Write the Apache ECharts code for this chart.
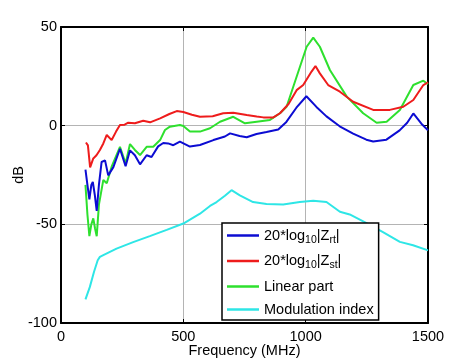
<!DOCTYPE html>
<html>
<head>
<meta charset="utf-8">
<script src="https://cdn.jsdelivr.net/npm/echarts@6/dist/echarts.min.js"></script>
<style>html,body{margin:0;padding:0;background:#fff}#c{width:474px;height:363px}</style>
</head>
<body>
<div id="c"></div>
<script>
var xTicks = [0, 500, 1000, 1500];
var yTicks = [-100, -50, 0, 50];
var seriesNames = ['Zrt', 'Zst', 'Linear part', 'Modulation index'];

var rtFreq = [100, 108, 116, 124, 130, 138, 146, 155, 166, 180, 193, 214, 241, 264, 282, 302, 323, 350, 370, 397, 418, 438, 459, 486, 527, 568, 623, 670, 691, 730, 759, 799, 840, 888, 921, 962, 1003, 1011, 1044, 1085, 1139, 1194, 1248, 1276, 1330, 1384, 1415, 1440, 1473, 1500];
var rtDb = [-22.3, -30, -37.3, -30, -28.5, -35, -43.2, -30, -18.4, -17.6, -25.2, -21, -11.7, -20.6, -12.5, -15, -19.6, -15, -15.9, -10.5, -8.8, -9, -9.9, -8.1, -10.6, -9.8, -7.3, -5.5, -3.9, -5.2, -5.9, -4.2, -3.2, -1.9, 1.9, 9.1, 14.9, 15.2, 9.5, 4.7, -0.3, -4, -7.1, -8.0, -7.1, -2.4, 1.5, 6.2, 1, -2.3];

var stFreq = [102, 110, 119, 132, 145, 159, 173, 187, 207, 225, 241, 260, 275, 302, 336, 364, 405, 443, 473, 500, 535, 568, 620, 663, 704, 759, 800, 827, 868, 895, 930, 963, 990, 1024, 1040, 1058, 1092, 1140, 1194, 1276, 1344, 1399, 1440, 1481, 1500];
var stDb = [-8.5, -10, -21.1, -16.6, -15, -12.3, -9, -4.7, -7.3, -3, 0.3, 0.5, 1.5, 1.2, 2.5, 1.7, 3.7, 5.9, 7.4, 6.9, 5.5, 4.5, 4.8, 6.3, 6.6, 5.4, 4.6, 4.2, 4.2, 6.3, 11, 18, 20.6, 27.4, 30.2, 26.5, 20.6, 17.2, 12.1, 8, 8, 9.6, 13, 20.6, 22];

var linFreq = [100, 108, 116, 124, 132, 139, 146, 155, 173, 187, 207, 241, 264, 282, 302, 323, 350, 377, 405, 425, 445, 486, 500, 527, 568, 609, 650, 704, 752, 800, 854, 895, 922, 963, 1004, 1031, 1058, 1099, 1168, 1235, 1290, 1331, 1385, 1440, 1481, 1500];
var linDb = [-30, -45, -56, -50, -47, -52, -56, -40, -27.5, -29.2, -20.8, -10.7, -19.1, -9.3, -12.3, -14.9, -10.7, -10.7, -7.3, -2.2, -0.5, 0.3, -0.2, -3, -3, -1.3, 2, 4.5, 1.2, 2, 2.9, 6.3, 9.6, 24.8, 40, 44.6, 40, 28.2, 14.7, 6.3, 1.5, 2, 7.9, 20.6, 22.8, 21];

var modFreq = [100, 118, 135, 150, 159, 173, 227, 295, 363, 432, 500, 568, 609, 636, 670, 697, 731, 785, 840, 908, 976, 1031, 1085, 1140, 1180, 1249, 1316, 1385, 1439, 1500];
var modDb = [-88, -81.7, -74, -68.2, -66.5, -65.6, -62.3, -59, -56, -52.8, -49.6, -44.6, -40.7, -38.7, -35.5, -32.7, -35.3, -38.7, -39.7, -39.9, -38.7, -38, -38.7, -43.6, -45, -49.4, -54, -58.9, -60.6, -63.2];

function zip(a, b) { return a.map(function (v, i) { return [v, b[i]]; }); }

var FONT = 'Liberation Sans, Arial, sans-serif';
var FS = 14.5;
var colors = ['#0c0cd2', '#ee1c1c', '#2ee02e', '#2ee6e6'];

var chart = echarts.init(document.getElementById('c'), null, { renderer: 'canvas' });
var lineStyle = function (c) { return { color: c, width: 2 }; };

var legendLabels = {
  'Zrt': '{m|20*log}{s|10}{m||Z}{s|rt}{m||}',
  'Zst': '{m|20*log}{s|10}{m||Z}{s|st}{m||}',
  'Linear part': '{p|Linear part}',
  'Modulation index': '{p|Modulation index}'
};

var plainLabel = function (v) { return String(v); };

chart.setOption({
  animation: false,
  textStyle: { fontFamily: FONT },
  grid: { left: 61, right: 46, top: 27, bottom: 40, containLabel: false, outerBoundsMode: 'none' },
  xAxis: [{
    type: 'value', min: xTicks[0], max: xTicks[xTicks.length - 1], interval: 500,
    name: 'Frequency (MHz)', nameLocation: 'middle', nameGap: 20, nameMoveOverlap: false,
    nameTextStyle: { color: '#000', fontSize: FS, fontFamily: FONT },
    axisLine: { onZero: false, lineStyle: { color: '#000', width: 2 } },
    axisTick: { inside: true, length: 4, lineStyle: { color: '#000', width: 1 } },
    axisLabel: { color: '#000', fontSize: FS, fontFamily: FONT, margin: 6, formatter: plainLabel },
    splitLine: { show: true, lineStyle: { color: '#b4b4b4', width: 1 } }
  }, {
    type: 'value', position: 'top', min: 0, max: 1500, interval: 500,
    axisLine: { onZero: false, lineStyle: { color: '#000', width: 2 } },
    axisTick: { inside: true, length: 4, lineStyle: { color: '#000', width: 1 } },
    axisLabel: { show: false }, splitLine: { show: false }
  }],
  yAxis: [{
    type: 'value', min: yTicks[0], max: yTicks[yTicks.length - 1], interval: 50,
    name: 'dB', nameLocation: 'middle', nameGap: 35, nameRotate: 90, nameMoveOverlap: false,
    nameTextStyle: { color: '#000', fontSize: FS, fontFamily: FONT },
    axisLine: { onZero: false, lineStyle: { color: '#000', width: 2 } },
    axisTick: { inside: true, length: 4, lineStyle: { color: '#000', width: 1 } },
    axisLabel: { color: '#000', fontSize: FS, fontFamily: FONT, margin: 4, formatter: plainLabel },
    splitLine: { show: true, lineStyle: { color: '#b4b4b4', width: 1 } }
  }, {
    type: 'value', position: 'right', min: -100, max: 50, interval: 50,
    axisLine: { onZero: false, lineStyle: { color: '#000', width: 2 } },
    axisTick: { inside: true, length: 4, lineStyle: { color: '#000', width: 1 } },
    axisLabel: { show: false }, splitLine: { show: false }
  }],
  legend: {
    orient: 'vertical', left: 222, top: 223,
    backgroundColor: '#fff', borderColor: '#000', borderWidth: 1.5,
    padding: [5, 5, 3, 5], itemGap: 8,
    itemWidth: 32, itemHeight: 2.5, icon: 'rect',
    data: seriesNames,
    formatter: function (n) { return legendLabels[n]; },
    textStyle: {
      color: '#000', fontSize: FS, fontFamily: FONT,
      rich: {
        m: { fontSize: FS, fontFamily: FONT, color: '#000', lineHeight: 20, verticalAlign: 'middle' },
        s: { fontSize: 10.5, fontFamily: FONT, color: '#000', lineHeight: 11, verticalAlign: 'bottom' },
        p: { fontSize: FS, fontFamily: FONT, color: '#000', lineHeight: 15 }
      }
    }
  },
  series: [
    { name: seriesNames[0], type: 'line', data: zip(rtFreq, rtDb), showSymbol: false, lineStyle: lineStyle(colors[0]), itemStyle: { color: colors[0] }, z: 4 },
    { name: seriesNames[1], type: 'line', data: zip(stFreq, stDb), showSymbol: false, lineStyle: lineStyle(colors[1]), itemStyle: { color: colors[1] }, z: 3 },
    { name: seriesNames[2], type: 'line', data: zip(linFreq, linDb), showSymbol: false, lineStyle: lineStyle(colors[2]), itemStyle: { color: colors[2] }, z: 2 },
    { name: seriesNames[3], type: 'line', data: zip(modFreq, modDb), showSymbol: false, lineStyle: lineStyle(colors[3]), itemStyle: { color: colors[3] }, z: 1 }
  ]
});
</script>
</body>
</html>
